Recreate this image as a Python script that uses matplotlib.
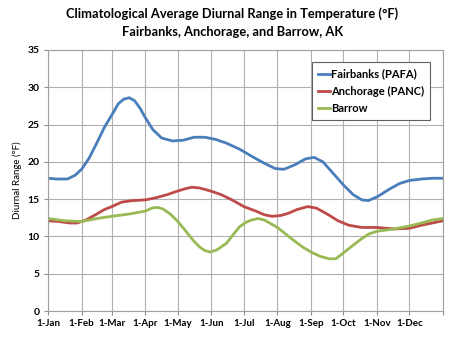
import matplotlib
matplotlib.use("Agg")
import matplotlib.pyplot as plt

plt.rcParams['font.family'] = ['Lato', 'DejaVu Sans']

# day of year (0 = 1-Jan) and diurnal range (deg F)
fai_day = [0, 8, 18, 25, 31, 38, 45, 52, 59, 65, 70, 75, 80, 85, 90, 97, 105, 115, 125, 135,
           145, 155, 165, 177, 190, 200, 210, 218, 228, 238, 246, 254, 262, 273, 282, 290, 296,
           304, 315, 325, 334, 345, 355, 365]
fai_val = [17.8, 17.7, 17.7, 18.2, 19.0, 20.5, 22.5, 24.6, 26.3, 27.8, 28.4, 28.6, 28.2, 27.2,
           25.9, 24.3, 23.2, 22.8, 22.9, 23.3, 23.3, 23.0, 22.5, 21.7, 20.6, 19.8, 19.1, 19.0,
           19.6, 20.4, 20.6, 20.0, 18.7, 16.9, 15.6, 14.9, 14.8, 15.3, 16.3, 17.1, 17.5, 17.7,
           17.8, 17.8]

anc_day = [0, 10, 20, 27, 35, 45, 52, 59, 68, 78, 90, 100, 110, 120, 127, 133, 140, 150, 160,
           170, 181, 192, 200, 207, 215, 222, 230, 240, 248, 258, 268, 278, 290, 304, 320, 334,
           345, 355, 365]
anc_val = [12.1, 12.0, 11.8, 11.8, 12.2, 13.0, 13.6, 14.0, 14.6, 14.8, 14.9, 15.2, 15.6, 16.1,
           16.4, 16.6, 16.5, 16.1, 15.6, 14.9, 14.0, 13.4, 12.9, 12.7, 12.8, 13.1, 13.6, 14.0,
           13.8, 13.0, 12.1, 11.5, 11.2, 11.2, 11.0, 11.1, 11.5, 11.8, 12.1]

brw_day = [0, 15, 31, 45, 59, 75, 90, 96, 101, 106, 113, 120, 128, 134, 140, 145, 150, 156, 165,
           172, 177, 183, 188, 194, 200, 212, 225, 235, 243, 252, 260, 266, 273, 280, 288, 296,
           304, 320, 334, 345, 355, 365]
brw_val = [12.4, 12.1, 12.0, 12.4, 12.7, 13.0, 13.4, 13.8, 13.9, 13.7, 13.0, 12.0, 10.6, 9.5,
           8.6, 8.1, 7.9, 8.2, 9.1, 10.4, 11.3, 11.9, 12.2, 12.4, 12.2, 11.2, 9.7, 8.6, 7.9, 7.3,
           7.0, 7.0, 7.8, 8.6, 9.5, 10.3, 10.7, 11.0, 11.4, 11.8, 12.2, 12.4]

month_start = [0, 31, 59, 90, 120, 151, 181, 212, 243, 273, 304, 334]
month_lbl = ['1-Jan', '1-Feb', '1-Mar', '1-Apr', '1-May', '1-Jun', '1-Jul', '1-Aug',
             '1-Sep', '1-Oct', '1-Nov', '1-Dec']

fig = plt.figure(figsize=(4.74, 3.47), dpi=100)
ax = fig.add_axes([0.1013, 0.1037, 0.8333, 0.7523])

ax.plot(fai_day, fai_val, color='#4a7ebb', lw=2, label='Fairbanks (PAFA)')
ax.plot(anc_day, anc_val, color='#be4b48', lw=2, label='Anchorage (PANC)')
ax.plot(brw_day, brw_val, color='#98b954', lw=2, label='Barrow')

ax.set_xlim(0, 365)
ax.set_ylim(0, 35)
ax.set_xticks(month_start + [365])
ax.set_xticklabels(month_lbl + [''], fontsize=7, fontweight='bold')
ax.set_yticks(range(0, 36, 5))
ax.set_yticklabels([str(v) for v in range(0, 36, 5)], fontsize=7.5, fontweight='bold')
ax.grid(True, color='#b0b0b0', lw=0.8)
ax.tick_params(length=3, color='#909090', pad=3)
for s in ax.spines.values():
    s.set_color('#a0a0a0')
    s.set_linewidth(0.8)
ax.set_ylabel('Diurnal Range (°F)', fontsize=7)

fig.suptitle('Climatological Average Diurnal Range in Temperature (°F)\nFairbanks, Anchorage, and Barrow, AK',
             x=0.49, y=0.978, fontsize=9.3, fontweight='bold', linespacing=1.55)

leg = ax.legend(loc='upper right', bbox_to_anchor=(0.982, 0.974), fancybox=False, framealpha=1,
                edgecolor='#606060', handlelength=1.1, handletextpad=0.1,
                prop={'size': 8, 'weight': 'bold'}, borderpad=0.55, labelspacing=0.55)
leg.get_frame().set_linewidth(0.8)

fig.savefig('out.png', dpi=100)
